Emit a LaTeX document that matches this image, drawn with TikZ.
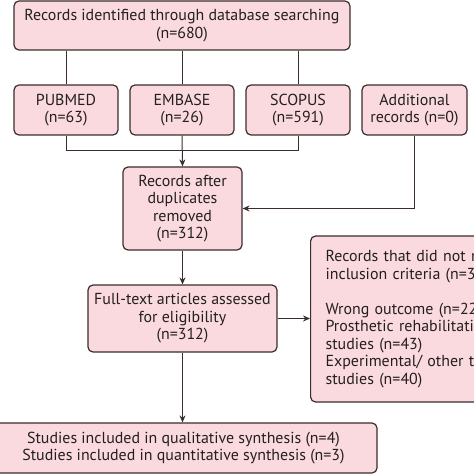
\documentclass[tikz,border=0pt]{standalone}
\usepackage{fontspec}
\setmainfont{PT Sans}
\usetikzlibrary{arrows.meta}
\definecolor{boxfill}{RGB}{250,218,222}
\definecolor{boxline}{RGB}{60,45,45}
\definecolor{txt}{RGB}{35,31,32}
\begin{document}
\begin{tikzpicture}[x=1bp,y=-1bp,
 box/.style={draw=boxline, fill=boxfill, line width=1.2bp, rounded corners=5bp, align=center, text=txt, inner sep=0pt, font=\fontsize{16}{17.6}\selectfont},
 conn/.style={draw=boxline, line width=1bp},
 arr/.style={conn, -{Stealth[length=7bp,width=6bp]}}]
\useasboundingbox (0,0) rectangle (474,474);
\clip (0,0) rectangle (474,474);
\node[box, minimum width=336bp, minimum height=49bp] (top) at (182,25.5) {Records identified through database searching\\(n=680)};
\node[box, minimum width=104bp, minimum height=50bp] (pub) at (66,110) {PUBMED\\(n=63)};
\node[box, minimum width=104bp, minimum height=50bp] (emb) at (182,110) {EMBASE\\(n=26)};
\node[box, minimum width=104bp, minimum height=50bp] (sco) at (298,110) {SCOPUS\\(n=591)};
\node[box, minimum width=105bp, minimum height=50bp] (add) at (414.5,110) {Additional\\records (n=0)};
\node[box, minimum width=119bp, minimum height=83bp] (dup) at (182.5,208.5) {Records after\\duplicates\\removed\\(n=312)};
\node[box, minimum width=189bp, minimum height=67bp] (full) at (182.5,318.5) {Full-text articles assessed\\for eligibility\\(n=312)};
\node[box, anchor=west, minimum height=166bp, align=left, text width=270bp, inner xsep=15bp] (excl) at (310,319) {Records that did not meet the\\inclusion criteria (n=308)\\[17.6bp]Wrong outcome (n=225)\\Prosthetic rehabilitation\\studies (n=43)\\Experimental/ other types of\\studies (n=40)};
\node[box, minimum width=387bp, minimum height=50bp] (incl) at (183.5,448) {Studies included in qualitative synthesis (n=4)\\Studies included in quantitative synthesis (n=3)};
\coordinate (j) at (182,151);
\draw[conn] (top.south -| pub) -- (pub.north);
\draw[conn] (top.south -| emb) -- (emb.north);
\draw[conn] (top.south -| sco) -- (sco.north);
\draw[conn] (pub.south) -- (pub.south |- j) -- (sco.south |- j) -- (sco.south);
\draw[arr] (emb.south) -- (dup.north);
\draw[arr] (add.south) |- (dup.east);
\draw[arr] (dup.south) -- (full.north);
\draw[arr] (full.east) -- (full.east -| excl.west);
\draw[arr] (full.south) -- (full.south |- incl.north);
\end{tikzpicture}
\end{document}
